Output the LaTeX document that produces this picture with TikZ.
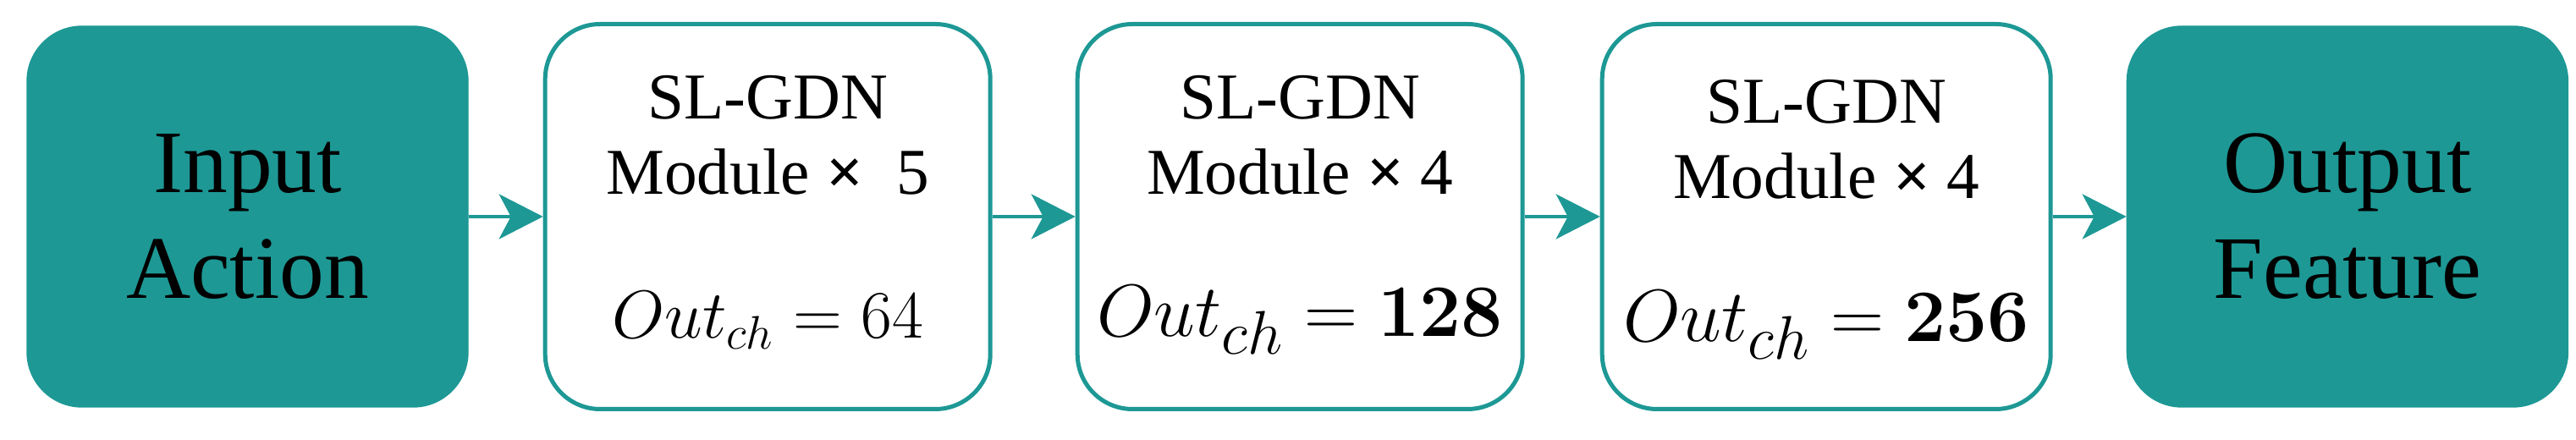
\documentclass[tikz,border=0pt]{standalone}
\usepackage{graphicx}
\usepackage[no-math]{fontspec}
\setmainfont{Liberation Serif}
\usetikzlibrary{positioning,arrows.meta}
\definecolor{tealbox}{RGB}{29,152,149}

\tikzset{
	endbox/.style={rounded corners=0.65cm, fill=tealbox, draw=tealbox, minimum width=5.21cm, minimum height=4.5cm, align=center, font=\fontsize{30}{35.6}\selectfont},
	modbox/.style={rounded corners=0.65cm, draw=tealbox, line width=0.05cm, fill=white, minimum width=5.26cm, minimum height=4.55cm},
	flow/.style={-{Stealth[length=0.52cm, width=0.53cm, inset=0.14cm]}, draw=tealbox, line width=0.045cm},
	modtxt/.style={font=\fontsize{22}{26}\selectfont, inner sep=0pt},
	outtxt/.style={font=\fontsize{20.74}{26}\selectfont, inner sep=0pt},
	outbig/.style={font=\fontsize{24.88}{29}\selectfont, inner sep=0pt}
}

\begin{document}
\begin{tikzpicture}
	\useasboundingbox (0,0) rectangle (30.44,5.2);
	%input and output
	\node[endbox] (input) at (2.925,2.64) {Input\\Action};
	
	%module blocks
	\node[modbox, right=0.88cm of input] (mod1) {};
	\node[modbox, right=0.98cm of mod1] (mod2) {};
	\node[modbox, minimum width=5.30cm, right=0.89cm of mod2] (mod3) {};
	
	\node[endbox, right=0.87cm of mod3] (output) {Output\\Feature};
	
	%block texts
	\node[modtxt, below=1.15cm of mod1.north, anchor=base] (name1) {SL-GDN};
	\node[modtxt, below=2.04cm of mod1.north, anchor=base] (rep1) {Module \textbf{×}\ \ 5};
	\node[outtxt, below=3.74cm of mod1.north, anchor=base] (ch1) {\scalebox{1.1}{$Out_{ch}=64$}};
	
	\node[modtxt, below=1.15cm of mod2.north, anchor=base] (name2) {SL-GDN};
	\node[modtxt, below=2.04cm of mod2.north, anchor=base] (rep2) {Module \textbf{×} 4};
	\node[outbig, below=3.72cm of mod2.north, anchor=base] (ch2) {$Out_{ch}=\mathbf{128}$};
	
	\node[modtxt, below=1.2cm of mod3.north, anchor=base] (name3) {SL-GDN};
	\node[modtxt, below=2.09cm of mod3.north, anchor=base] (rep3) {Module \textbf{×} 4};
	\node[outbig, below=3.78cm of mod3.north, anchor=base] (ch3) {$Out_{ch}=\mathbf{256}$};
	
	%arrows
	\draw[flow] (input) -- (mod1);
	\draw[flow] (mod1) -- (mod2);
	\draw[flow] (mod2) -- (mod3);
	\draw[flow] (mod3) -- (output);
\end{tikzpicture}
\end{document}
